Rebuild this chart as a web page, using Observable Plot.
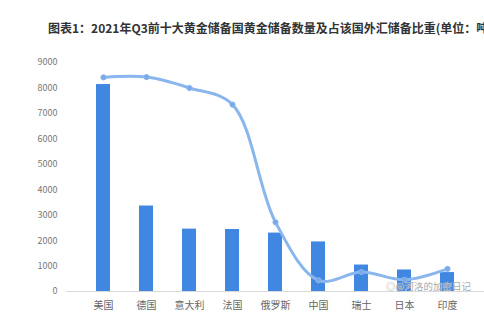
<!DOCTYPE html>
<html>
<head>
<meta charset="utf-8">
<script src="https://cdn.jsdelivr.net/npm/d3@7"></script>
<script src="https://cdn.jsdelivr.net/npm/@observablehq/plot@0.6"></script>
<style>
  html, body { margin: 0; padding: 0; background: #fff; }
  #wrap { position: relative; width: 484px; height: 312px; overflow: hidden; font-family: "Noto Sans CJK SC", sans-serif; }
  #title { position: absolute; left: 48px; top: 20px; white-space: nowrap; font-size: 12px; line-height: 16px; font-weight: bold; color: #333; }
  #wm { position: absolute; left: 386px; top: 281px; font-size: 9.5px; line-height: 11px; color: #aaa; white-space: nowrap; text-shadow: 0 0 1px #fff; }
  #chart { position: absolute; left: 0; top: 0; }
</style>
</head>
<body>
<div id="wrap">
  <div id="chart"></div>
  <div id="title">图表1：2021年Q3前十大黄金储备国黄金储备数量及占该国外汇储备比重(单位：吨，%)</div>
  <div id="wm">◎@河洛的加密日记</div>
</div>
<script>
const countries = ["美国", "德国", "意大利", "法国", "俄罗斯", "中国", "瑞士", "日本", "印度"];
const tonnes = [8133.5, 3359.1, 2451.8, 2436.0, 2295.4, 1948.3, 1040.0, 846.0, 743.8];
const sharePct = [74.8, 74.9, 71.1, 65.3, 24.2, 3.9, 6.8, 4.1, 7.9];
const yTicks = [0, 1000, 2000, 3000, 4000, 5000, 6000, 7000, 8000, 9000];
const pctMax = 80; // hidden secondary axis 0–80% spans the same height as 0–9000 tonnes

const rows = countries.map((c, i) => ({country: c, tonnes: tonnes[i], pct: sharePct[i]}));
const pctToY = d => d.pct * (9000 / pctMax);

const chart = Plot.plot({
  width: 484,
  height: 312,
  marginTop: 62,
  marginBottom: 21,
  marginLeft: 66,
  marginRight: 0,
  style: {fontFamily: "'Noto Sans CJK SC', sans-serif", background: "transparent"},
  x: {domain: countries, padding: 0.68, label: null},
  y: {domain: [0, 9000], label: null},
  marks: [
    Plot.axisX({tickSize: 0, tickPadding: 10, fontSize: 10, color: "#666", label: null}),
    Plot.axisY({ticks: yTicks, tickFormat: d => String(d), tickSize: 0, tickPadding: 9, fontSize: 9, color: "#777", label: null}),
    Plot.ruleY([0], {stroke: "#d9d9d9", strokeWidth: 1}),
    Plot.barY(rows, {x: "country", y: "tonnes", fill: "#3f87e0"}),
    Plot.line(rows, {x: "country", y: pctToY, stroke: "#8ab6ee", strokeWidth: 3, curve: "catmull-rom"}),
    Plot.dot(rows, {x: "country", y: pctToY, r: 2.6, fill: "#7aa9e8", stroke: "#8ab6ee", strokeWidth: 1})
  ]
});
document.getElementById("chart").appendChild(chart);
</script>
</body>
</html>
